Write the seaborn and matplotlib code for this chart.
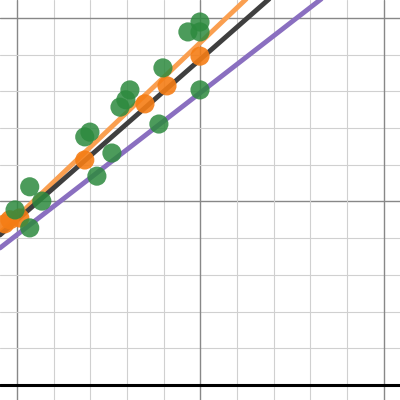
import matplotlib
matplotlib.use("Agg")
import matplotlib.pyplot as plt
import seaborn as sns
import numpy as np
import pandas as pd

green_x = [-0.05,0.35,0.68,0.35,1.85,1.99,2.18,2.59,2.81,2.97,3.08,3.98,4.66,4.99,4.99,3.87,4.99]
green_y = [4.77,5.40,5.01,4.28,6.76,6.89,5.69,6.32,7.57,7.77,8.04,8.64,9.62,9.89,9.62,7.11,8.04]
orange_x = [-0.33,0.08,-0.19,1.85,3.49,4.09,4.99]
orange_y = [4.39,4.55,4.50,6.13,7.66,8.15,8.96]
line_names = ["orange", "black", "purple"]
line_intercepts = [4.58, 4.49, 4.09]
line_slopes = [0.95, 0.877, 0.775]
line_colors = {"orange": "#fa9f50", "black": "#3f3f3f", "purple": "#8a6fc0"}

sns.set_style("white")
fig = plt.figure(figsize=(4, 4), dpi=100)
ax = fig.add_axes([0, 0, 1, 1])
xmin, xmax, ymin, ymax = -0.46, 10.44, -0.41, 10.49
for v in range(0, 11):
    c, lw = ("#888888", 1.0) if v % 5 == 0 else ("#d0d0d0", 0.8)
    ax.axvline(v, color=c, lw=lw, zorder=0)
    if v != 0:
        ax.axhline(v, color=c, lw=lw, zorder=0)
ax.axhline(0, color="black", lw=2.2, zorder=1)

xs = np.linspace(xmin, xmax, 50)
rows = []
for n, a, b in zip(line_names, line_intercepts, line_slopes):
    for x in xs:
        rows.append((n, x, a + b * x))
ldf = pd.DataFrame(rows, columns=["name", "x", "y"])
sns.lineplot(data=ldf, x="x", y="y", hue="name", palette=line_colors, lw=3.5, ax=ax, legend=False, zorder=2)
sns.scatterplot(x=orange_x, y=orange_y, color="#f57d15", s=190, edgecolor="none", alpha=0.9, ax=ax, zorder=3)
sns.scatterplot(x=green_x, y=green_y, color="#2d8a3e", s=190, edgecolor="none", alpha=0.85, ax=ax, zorder=4)

ax.set_xlim(xmin, xmax)
ax.set_ylim(ymin, ymax)
ax.set_xticks([]); ax.set_yticks([])
ax.set_xlabel(""); ax.set_ylabel("")
for s in ax.spines.values():
    s.set_visible(False)
fig.savefig("out.png", dpi=100)
